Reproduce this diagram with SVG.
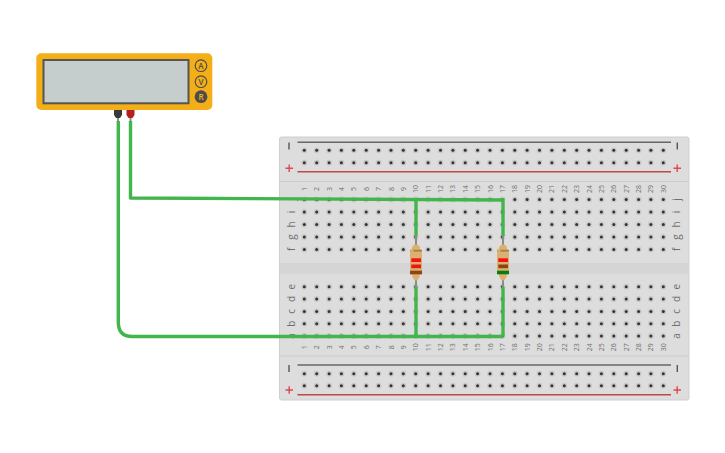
<svg xmlns="http://www.w3.org/2000/svg" width="725" height="453" viewBox="0 0 725 453">
<style>
text{font-family:"Open Sans","Liberation Sans",sans-serif}
.n{font-size:7px;fill:#707070;text-anchor:middle}
.l{font-size:10px;fill:#707070;text-anchor:middle}
.w{fill:none;stroke:#42b54d;stroke-width:3.400;stroke-linecap:butt;stroke-linejoin:round}
.lead{stroke:#8c8c8c;stroke-width:2;fill:none}
.btn{fill:none;stroke:#4d4d4d;stroke-width:1.2}
.bt{font-size:8px;font-weight:600;fill:#4d4d4d;text-anchor:middle}
.pm{stroke-width:1.4;fill:none}
</style>
<defs>
<g id="hole"><circle r="2.9" fill="#c8c8c8"/><circle r="1.5" fill="#333"/></g>
<g id="row">
<use href="#hole" x="304.3"/><use href="#hole" x="316.7"/><use href="#hole" x="329.1"/><use href="#hole" x="341.4"/><use href="#hole" x="353.8"/><use href="#hole" x="366.2"/><use href="#hole" x="378.6"/><use href="#hole" x="391"/><use href="#hole" x="403.3"/><use href="#hole" x="415.7"/>
<use href="#hole" x="428.1"/><use href="#hole" x="440.5"/><use href="#hole" x="452.9"/><use href="#hole" x="465.2"/><use href="#hole" x="477.6"/><use href="#hole" x="490"/><use href="#hole" x="502.4"/><use href="#hole" x="514.8"/><use href="#hole" x="527.1"/><use href="#hole" x="539.5"/>
<use href="#hole" x="551.9"/><use href="#hole" x="564.3"/><use href="#hole" x="576.7"/><use href="#hole" x="589"/><use href="#hole" x="601.4"/><use href="#hole" x="613.8"/><use href="#hole" x="626.2"/><use href="#hole" x="638.6"/><use href="#hole" x="650.9"/><use href="#hole" x="663.3"/>
</g>
<g id="nums">
<text class="n" transform="translate(306.8,188.5) rotate(-90)">1</text><text class="n" transform="translate(319.2,188.5) rotate(-90)">2</text><text class="n" transform="translate(331.6,188.5) rotate(-90)">3</text><text class="n" transform="translate(343.9,188.5) rotate(-90)">4</text><text class="n" transform="translate(356.3,188.5) rotate(-90)">5</text><text class="n" transform="translate(368.7,188.5) rotate(-90)">6</text><text class="n" transform="translate(381.1,188.5) rotate(-90)">7</text><text class="n" transform="translate(393.5,188.5) rotate(-90)">8</text><text class="n" transform="translate(405.8,188.5) rotate(-90)">9</text><text class="n" transform="translate(418.2,188.5) rotate(-90)">10</text>
<text class="n" transform="translate(430.6,188.5) rotate(-90)">11</text><text class="n" transform="translate(443,188.5) rotate(-90)">12</text><text class="n" transform="translate(455.4,188.5) rotate(-90)">13</text><text class="n" transform="translate(467.7,188.5) rotate(-90)">14</text><text class="n" transform="translate(480.1,188.5) rotate(-90)">15</text><text class="n" transform="translate(492.5,188.5) rotate(-90)">16</text><text class="n" transform="translate(504.9,188.5) rotate(-90)">17</text><text class="n" transform="translate(517.3,188.5) rotate(-90)">18</text><text class="n" transform="translate(529.6,188.5) rotate(-90)">19</text><text class="n" transform="translate(542,188.5) rotate(-90)">20</text>
<text class="n" transform="translate(554.4,188.5) rotate(-90)">21</text><text class="n" transform="translate(566.8,188.5) rotate(-90)">22</text><text class="n" transform="translate(579.2,188.5) rotate(-90)">23</text><text class="n" transform="translate(591.5,188.5) rotate(-90)">24</text><text class="n" transform="translate(603.9,188.5) rotate(-90)">25</text><text class="n" transform="translate(616.3,188.5) rotate(-90)">26</text><text class="n" transform="translate(628.7,188.5) rotate(-90)">27</text><text class="n" transform="translate(641.1,188.5) rotate(-90)">28</text><text class="n" transform="translate(653.4,188.5) rotate(-90)">29</text><text class="n" transform="translate(665.8,188.5) rotate(-90)">30</text>
</g>
<g id="body"><path d="M416 244.500c2.500 0 3.500 1.500 4 3.500c.5 2 2 3.500 2 6v15c0 2.500-1.500 4-2 6c-.5 2-1.500 5-4 5.500c-2.500-.5-3.500-3.500-4-5.500c-.5-2-2-3.500-2-6v-15c0-2.500 1.500-4 2-6c.5-2 1.500-3.500 4-3.500z" fill="#dcb06f"/></g>
</defs>

<g id="breadboard">
<rect x="279.500" y="137" width="409.500" height="263" rx="2" fill="#dddddd" stroke="#cfcfcf" stroke-width="1"/>
<rect x="280" y="263" width="408.500" height="11" fill="#d5d5d5"/>
<path d="M280 181.500H688.500M280 356H688.500" stroke="#cbcbcb" stroke-width="1" fill="none"/>
<path d="M297.500 142.300H671" stroke="#666" stroke-width="1.500"/>
<path d="M297.500 171.800H671" stroke="#c0474a" stroke-width="1.500"/>
<path d="M297.500 365H671" stroke="#666" stroke-width="1.500"/>
<path d="M297.500 394.700H671" stroke="#c0474a" stroke-width="1.500"/>
<path class="pm" stroke="#555" d="M289 142.500v7M677.300 142.500v7M289 365v7M677.300 365v7"/>
<path class="pm" stroke="#dd4a4d" d="M285.500 168.300h7.500M289.200 164.500v7.500M673.500 168.300h7.500M677.200 164.500v7.500M285.500 390h7.500M289.200 386.300v7.500M673.500 390h7.500M677.200 386.300v7.500"/>
<use href="#row" y="150.300"/><use href="#row" y="162.700"/>
<use href="#row" y="199.500"/><use href="#row" y="212"/><use href="#row" y="224.500"/><use href="#row" y="237"/><use href="#row" y="249.400"/>
<use href="#row" y="286.700"/><use href="#row" y="299"/><use href="#row" y="311.400"/><use href="#row" y="323.700"/><use href="#row" y="336"/>
<use href="#row" y="373.700"/><use href="#row" y="385.700"/>
<use href="#nums" y=".5"/><use href="#nums" y="158.800"/>
<g>
<text class="l" transform="translate(295,199.500) rotate(-90)">j</text><text class="l" transform="translate(295,212) rotate(-90)">i</text><text class="l" transform="translate(295,224.500) rotate(-90)">h</text><text class="l" transform="translate(295,237) rotate(-90)">g</text><text class="l" transform="translate(295,249.400) rotate(-90)">f</text>
<text class="l" transform="translate(295,286.700) rotate(-90)">e</text><text class="l" transform="translate(295,299) rotate(-90)">d</text><text class="l" transform="translate(295,311.400) rotate(-90)">c</text><text class="l" transform="translate(295,323.700) rotate(-90)">b</text><text class="l" transform="translate(295,336) rotate(-90)">a</text>
<text class="l" transform="translate(680,199.500) rotate(-90)">j</text><text class="l" transform="translate(680,212) rotate(-90)">i</text><text class="l" transform="translate(680,224.500) rotate(-90)">h</text><text class="l" transform="translate(680,237) rotate(-90)">g</text><text class="l" transform="translate(680,249.400) rotate(-90)">f</text>
<text class="l" transform="translate(680,286.700) rotate(-90)">e</text><text class="l" transform="translate(680,299) rotate(-90)">d</text><text class="l" transform="translate(680,311.400) rotate(-90)">c</text><text class="l" transform="translate(680,323.700) rotate(-90)">b</text><text class="l" transform="translate(680,336) rotate(-90)">a</text>
</g>
</g>

<g id="multimeter">
<rect x="36.300" y="53.300" width="176" height="56.700" rx="5" fill="#f4ae17"/>
<rect x="43.500" y="60" width="145" height="43.300" fill="#c5cdcd" stroke="#555" stroke-width="2"/>
<circle class="btn" cx="201" cy="65.700" r="5.800"/><text class="bt" x="201" y="68.500">A</text>
<circle class="btn" cx="201" cy="81.700" r="5.800"/><text class="bt" x="201" y="84.500">V</text>
<circle cx="201" cy="96.700" r="6.400" fill="#4d4d4d"/><text class="bt" x="201" y="99.500" style="fill:#f4ae17">R</text>
<path d="M114 110h8v5l-2 3h-4l-2-3z" fill="#3a3a3a"/>
<path d="M126.500 110h8v5l-2 3h-4l-2-3z" fill="#b5201f"/>
<path d="M118 118v3M130.500 118v3" class="lead"/>
</g>

<g id="resistor-1">
<path class="lead" d="M416 236V246M416 278V287"/>
<use href="#body"/>
<path d="M410 250.700h12" stroke="#a08050" stroke-width="1.800"/><path d="M410.500 250.700h3" stroke="#d8c060" stroke-width="1.800"/>
<rect x="411.300" y="258.300" width="9.700" height="3.700" fill="#f01414"/>
<rect x="411.300" y="264.500" width="9.700" height="3.700" fill="#f01414"/>
<rect x="410" y="270.700" width="12" height="3.600" fill="#8a4513"/>
</g>
<g id="resistor-2">
<path class="lead" d="M503 236V246M503 278V287"/>
<use href="#body" x="87"/>
<path d="M497 250.700h12" stroke="#a08050" stroke-width="1.800"/><path d="M497.500 250.700h3" stroke="#d8c060" stroke-width="1.800"/>
<rect x="498.300" y="258.300" width="9.700" height="3.700" fill="#f01414"/>
<rect x="498.300" y="264.500" width="9.700" height="3.700" fill="#8a4513"/>
<rect x="497" y="270.700" width="12" height="3.600" fill="#0a7d12"/>
</g>

<g id="connectors">
<path class="w" d="M130.500 121V198L503 200"/>
<path class="w" d="M118.300 121V322Q118.300 336.500 132 336.500H503"/>
<path class="w" d="M416 198.500V236"/>
<path class="w" d="M503 198.500V236"/>
<path class="w" d="M416 287V336.500"/>
<path class="w" d="M503 287V336.500"/>
</g>
</svg>
